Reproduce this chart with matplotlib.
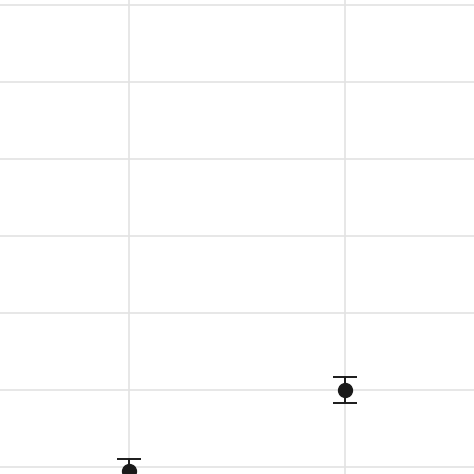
import matplotlib
matplotlib.use("Agg")
import matplotlib.pyplot as plt

groups = [1, 2]
means = [-0.05, 1.0]
errors = [0.16, 0.17]

fig = plt.figure(figsize=(4.74, 4.74), dpi=100)
ax = fig.add_axes([0, 0, 1, 1])
ax.errorbar(groups, means, yerr=errors, fmt='o', color='#1a1a1a', ecolor='#1a1a1a',
            markersize=10, capsize=8.5, elinewidth=1.4, capthick=1.4, zorder=3)
ax.set_xlim(0.403, 2.597)
ax.set_ylim(-0.091, 6.065)
ax.set_xticks(groups)
ax.set_yticks(range(0, 7))
ax.grid(True, color='#e3e3e3', linewidth=1.2)
ax.tick_params(length=0, labelbottom=False, labelleft=False)
for s in ax.spines.values():
    s.set_visible(False)
fig.savefig("out.png", dpi=100)
